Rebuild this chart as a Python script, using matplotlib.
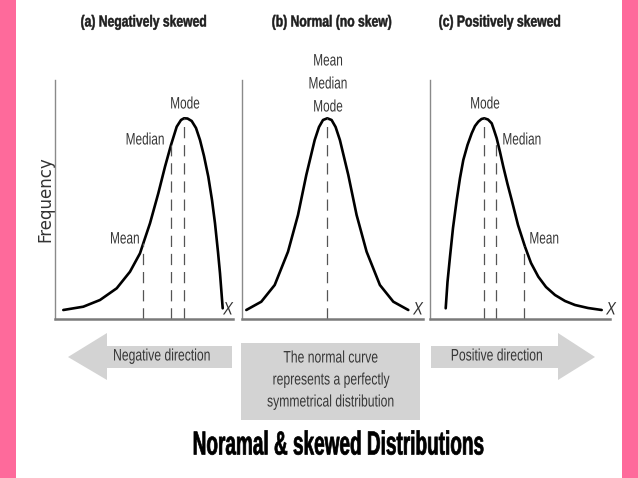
import matplotlib
matplotlib.use("Agg")
import matplotlib.pyplot as plt
from matplotlib.patches import Polygon, Rectangle
from matplotlib.patheffects import AbstractPathEffect
from matplotlib.transforms import Affine2D

SANS = ['Liberation Sans Narrow', 'Liberation Sans', 'DejaVu Sans']

# ---- data (x along each panel's axis, y = frequency height) ----
panel_titles = ["(a) Negatively skewed", "(b) Normal (no skew)", "(c) Positively skewed"]

neg_x = [8.3, 28.3, 45, 61.7, 75, 85, 88.3, 95, 103.3, 110, 116, 121.7, 126, 129, 132.5, 136.7, 141, 145, 149, 153.3, 157, 160, 163, 165, 167.7]
neg_y = [9, 12.3, 19, 30.7, 47.3, 65.7, 75.7, 95.7, 125.7, 152.3, 174, 192.3, 199, 200.7, 200.5, 198, 191, 179, 163, 142.3, 119, 95.7, 67, 45.7, 10.7]

norm_x = [4.3, 19.3, 32.7, 46, 56, 64.3, 72.7, 77, 81, 85.3, 89.6, 93.6, 97.9, 106.3, 114.6, 124.6, 137.9, 151.3, 166.3]
norm_y = [9, 17.3, 34, 67.3, 104, 144, 179, 192, 199, 200.7, 199, 192, 179, 144, 104, 67.3, 34, 17.3, 9]

pos_x = [15.7, 17.5, 20, 23, 26.7, 30, 33.3, 37.5, 41.7, 45, 48.3, 51.5, 54.3, 58, 61.7, 64, 66.7, 70, 73.3, 77.5, 81.7, 88, 95, 101, 108.3, 116, 125, 135, 145, 158, 171.7]
pos_y = [10.7, 37, 62.3, 91, 119, 141, 159, 174, 185.7, 193, 197.3, 200, 200.7, 199.5, 195.7, 189, 180.7, 167, 152.3, 135, 119, 94, 72.3, 56, 42.3, 32, 24, 18, 14, 11, 9]

# dashed reference lines: x position and curve height at that position
neg_marks_x = [88.3, 116, 129]
neg_marks_h = [75.7, 174, 200.7]
norm_marks_x = [85.3]
norm_marks_h = [200.7]
pos_marks_x = [54.3, 66.3, 94.3]
pos_marks_h = [200.7, 181, 73]

curves = [(neg_x, neg_y, neg_marks_x, neg_marks_h),
          (norm_x, norm_y, norm_marks_x, norm_marks_h),
          (pos_x, pos_y, pos_marks_x, pos_marks_h)]


class Squeeze(AbstractPathEffect):
    """Draw text glyphs horizontally condensed about an anchor."""
    def __init__(self, sx, anchor="center", bold=0.0):
        super().__init__()
        self.sx, self.anchor, self.bold = sx, anchor, bold

    def draw_path(self, renderer, gc, tpath, affine, rgbFace=None):
        bb = tpath.get_extents(affine)
        cx = {"left": bb.x0, "right": bb.x1}.get(self.anchor, (bb.x0 + bb.x1) / 2)
        t = affine + Affine2D().translate(-cx, 0).scale(self.sx, 1).translate(cx, 0)
        gc0 = renderer.new_gc()
        gc0.copy_properties(gc)
        if self.bold and rgbFace is not None:
            gc0.set_linewidth(self.bold)
            gc0.set_foreground(rgbFace)
        renderer.draw_path(gc0, tpath, t, rgbFace)
        gc0.restore()


W, H = 638, 478
fig = plt.figure(figsize=(W / 100, H / 100), dpi=100)
fig.patch.set_facecolor("white")

bg = fig.add_axes([0, 0, 1, 1])
bg.set_xlim(0, W)
bg.set_ylim(H, 0)
bg.axis("off")

PINK = "#FE6A9B"
bg.add_patch(Rectangle((0, 0), 16, H, color=PINK, lw=0))
bg.add_patch(Rectangle((622, 0), 16, H, color=PINK, lw=0))

# panel frames (left, right, top, bottom) in pixels
frames = [(55, 233, 80, 319), (242, 423, 80, 319), (430, 610, 80, 319)]
axes = []
for (l, r, t, b), (cx, cy, mx, mh) in zip(frames, curves):
    ax = fig.add_axes([l / W, (H - b) / H, (r - l) / W, (b - t) / H])
    ax.set_xlim(0, r - l)
    ax.set_ylim(0, b - t)
    ax.patch.set_alpha(0)
    for s in ["top", "right"]:
        ax.spines[s].set_visible(False)
    ax.spines["left"].set_color("#8a8a8a")
    ax.spines["left"].set_linewidth(1.0)
    ax.spines["bottom"].set_color("#7a7a7a")
    ax.spines["bottom"].set_linewidth(1.8)
    ax.set_xticks([])
    ax.set_yticks([])
    ax.plot(cx, cy, color="black", lw=1.9, solid_capstyle="round", solid_joinstyle="round")
    for x, h in zip(mx, mh):
        ax.plot([x, x], [0, h], color="#555555", lw=0.9, dashes=(9, 5.5))
    axes.append(ax)

lab = dict(family=SANS, fontsize=12, color="#363636")


def label(x, y, s, ha, **kw):
    bg.text(x, y, s, ha=ha, va="center", path_effects=[Squeeze(0.71, ha)], **lab, **kw)


label(185, 104, "Mode", "center")
label(165, 140, "Median", "right")
label(140, 239, "Mean", "right")
label(328, 61, "Mean", "center")
label(328, 84, "Median", "center")
label(328, 107, "Mode", "center")
label(485, 104, "Mode", "center")
label(502, 140, "Median", "left")
label(529, 239, "Mean", "left")
for xx in [228, 418, 611]:
    bg.text(xx, 310, "X", ha="center", va="center", family=SANS, fontsize=13,
            style="italic", color="#333333", path_effects=[Squeeze(0.8)])

bg.text(45, 199, "Frequency", rotation=90, ha="center", va="center",
        family=['DejaVu Sans'], fontsize=12, color="#333333")

# panel titles
for cxp, t in zip([144, 332, 500], panel_titles):
    bg.text(cxp, 22, t, ha="center", va="center", family=SANS,
            fontsize=11.5, fontweight="bold", color="#1e1e1e",
            path_effects=[Squeeze(0.76, bold=0.35)])

# direction arrows and centre box
GREY = "#d3d3d3"
bg.add_patch(Polygon([(68, 357), (107, 333), (107, 346), (232, 346), (232, 368), (107, 368), (107, 380)],
                     closed=True, color=GREY, lw=0))
bg.add_patch(Polygon([(595, 357), (558, 333), (558, 346), (431, 346), (431, 368), (558, 368), (558, 380)],
                     closed=True, color=GREY, lw=0))
bg.add_patch(Rectangle((241, 343), 179, 77, color=GREY, lw=0))

txt = dict(family=SANS, fontsize=12, color="#363636", ha="center", va="center",
           path_effects=[Squeeze(0.73)])
bg.text(162, 356, "Negative direction", **txt)
bg.text(497, 356, "Positive direction", **txt)
bg.text(331, 358, "The normal curve", **txt)
bg.text(331, 380, "represents a perfectly", **txt)
bg.text(331, 402, "symmetrical distribution", **txt)

bg.text(339, 446, "Noramal & skewed Distributions", ha="center", va="center",
        family=SANS, fontsize=24, fontweight="bold", color="black",
        path_effects=[Squeeze(0.57, bold=0.5)])

fig.savefig("out.png", dpi=100)
